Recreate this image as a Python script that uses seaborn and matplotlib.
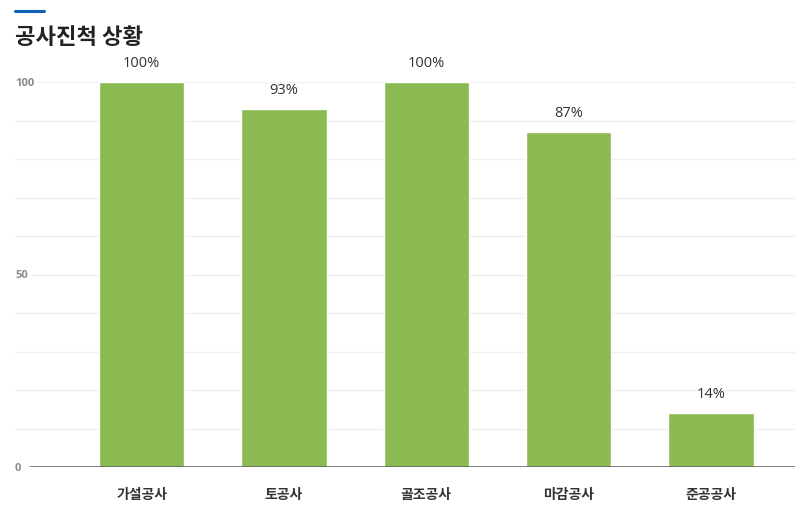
import seaborn as sns
import matplotlib.pyplot as plt
import pandas as pd

# 공사진척 상황 data
categories = ["가설공사", "토공사", "골조공사", "마감공사", "준공공사"]
progress = [100, 93, 100, 87, 14]
y_ticks = [0, 50, 100]
title = "공사진척 상황"


def visualize_data(df):
    sns.set_theme(style="white")
    plt.rcParams["font.family"] = ["Noto Sans CJK KR", "DejaVu Sans"]
    latin = ["Open Sans", "DejaVu Sans"]

    fig = plt.figure(figsize=(8, 5.18), dpi=100)
    # axes from x=15px to 795px, y=0 at 467px, y=100 at 82px
    ax = fig.add_axes([15 / 800, 1 - 467 / 518, 780 / 800, (467 - 82) / 518])

    sns.barplot(x="공종", y="진척률", data=df, color="#8bba52", width=0.6,
                saturation=1, ax=ax, zorder=3)

    ax.set_xlim(-0.89, 4.59)
    ax.set_ylim(0, 100)

    # faint grid every 10
    ax.set_yticks(range(0, 101, 10), minor=True)
    ax.grid(axis="y", which="both", color="#f0f0f0", linewidth=1, zorder=0)
    ax.grid(axis="x", visible=False)
    ax.set_yticks(y_ticks)
    ax.set_yticklabels([str(t) for t in y_ticks],
                       fontdict={"family": latin, "weight": "bold"})
    ax.tick_params(axis="y", which="both", length=0, pad=0,
                   labelsize=8, labelcolor="#8a8a8a")
    for lbl in ax.get_yticklabels():
        lbl.set_horizontalalignment("left")
        lbl.set_bbox(dict(facecolor="white", edgecolor="none", pad=3))

    ax.tick_params(axis="x", length=0, pad=15, labelsize=10, labelcolor="#333333")
    for lbl in ax.get_xticklabels():
        lbl.set_fontweight("bold")

    for s in ax.spines.values():
        s.set_visible(False)
    ax.axhline(0, xmin=15 / 780, xmax=1, color="#5a5a5a", linewidth=1.8, zorder=4)

    ax.set_xlabel("")
    ax.set_ylabel("")

    # value labels
    for i, v in enumerate(df["진척률"]):
        ax.annotate(f"{v}%", (i, v), xytext=(0, 8), textcoords="offset points",
                    ha="center", va="bottom", fontsize=10.5, color="#333333",
                    family=latin, clip_on=False)

    fig.text(15 / 800, 1 - 38 / 518, title, fontsize=16, fontweight="bold",
             color="#222222", va="center", ha="left")
    fig.add_artist(plt.Line2D([15 / 800, 44 / 800], [1 - 11 / 518, 1 - 11 / 518],
                              color="#1060b8", linewidth=2.2))

    fig.savefig("out.png", dpi=100)


def main():
    df = pd.DataFrame({"공종": categories, "진척률": progress})
    visualize_data(df)


if __name__ == "__main__":
    main()
